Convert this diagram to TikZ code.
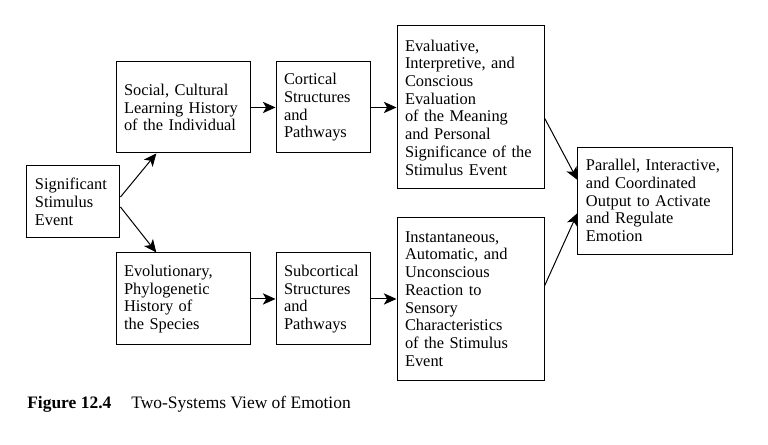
\documentclass[tikz,border=0pt]{standalone}
\usepackage{fontspec}
\setmainfont{Liberation Serif}
\usetikzlibrary{arrows.meta,positioning}
\tikzset{
  sysbox/.style={draw, line width=0.75pt, align=left, inner xsep=6pt, inner ysep=0pt, font=\fontsize{12.3}{13.3}\selectfont},
  sysarrow/.style={-{Stealth[length=9.5pt,width=8.5pt,inset=2.5pt]}, line width=0.75pt},
  syscaption/.style={font=\fontsize{13.1}{15}\selectfont, anchor=base west, inner sep=0pt}
}
\begin{document}
\begin{tikzpicture}
    \useasboundingbox (0,0) rectangle (576pt,-333.75pt);
    \node[sysbox, text width=57.75pt, minimum height=54pt] (stimulus) at (55.1pt,-151.5pt) {Significant\\Stimulus\\Event};
    \node[sysbox, text width=88.5pt, minimum height=68.25pt] (social) at (137.25pt,-80.6pt) {Social, Cultural\\Learning History\\of the Individual};
    \node[sysbox, text width=58.5pt, minimum height=68.25pt, right=18.75pt of social] (cortical) {Cortical\\Structures\\and\\Pathways};
    \node[sysbox, text width=98.25pt, minimum height=122.25pt, right=19.5pt of cortical] (evaluative) {Evaluative,\\Interpretive, and\\Conscious\\Evaluation\\of the Meaning\\and Personal\\Significance of the\\Stimulus Event};
    \node[sysbox, text width=88.5pt, minimum height=69pt, below=74.25pt of social] (evolution) {Evolutionary,\\Phylogenetic\\History of\\the Species};
    \node[sysbox, text width=58.5pt, minimum height=69pt, right=18.75pt of evolution] (subcortical) {Subcortical\\Structures\\and\\Pathways};
    \node[sysbox, text width=98.25pt, minimum height=122.25pt, right=19.5pt of subcortical] (instant) {Instantaneous,\\Automatic, and\\Unconscious\\Reaction to\\Sensory\\Characteristics\\of the Stimulus\\Event};
    \node[sysbox, text width=104.25pt, minimum height=80.25pt] (output) at (491.6pt,-150.4pt) {Parallel, Interactive,\\and Coordinated\\Output to Activate\\and Regulate\\Emotion};
    \draw[sysarrow] ([yshift=3.75pt]stimulus.east) -- ([xshift=-20pt]social.south);
    \draw[sysarrow] ([yshift=-3.75pt]stimulus.east) -- ([xshift=-20pt]evolution.north);
    \draw[sysarrow] (social) -- (cortical);
    \draw[sysarrow] (cortical) -- (evaluative);
    \draw[sysarrow] (evolution) -- (subcortical);
    \draw[sysarrow] (subcortical) -- (instant);
    \draw[sysarrow] ([yshift=-7.9pt]evaluative.east) -- ([yshift=15.4pt]output.west);
    \draw[sysarrow] ([yshift=9.75pt]instant.east) -- ([yshift=-9.4pt]output.west);
    \node[syscaption] (caption) at (20.25pt,-306pt) {\textbf{Figure 12.4}\hspace{15pt}Two-Systems View of Emotion};
\end{tikzpicture}
\end{document}
